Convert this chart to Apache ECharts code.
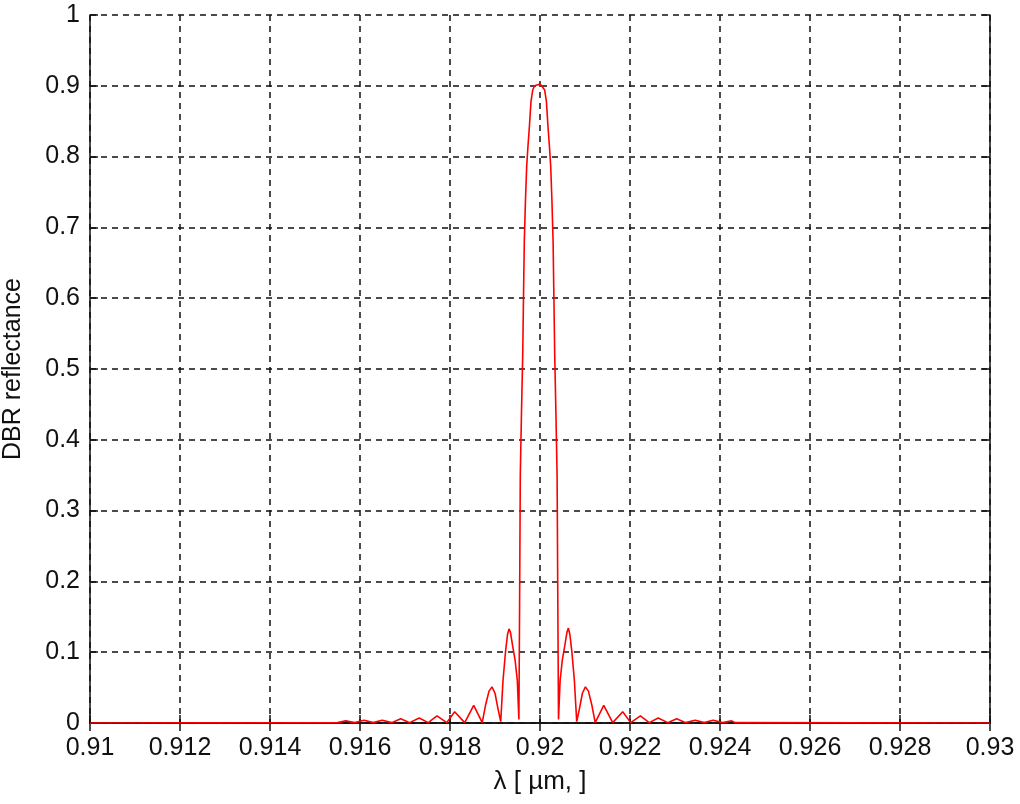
<!DOCTYPE html>
<html>
<head>
<meta charset="utf-8">
<script src="https://cdn.jsdelivr.net/npm/echarts@6/dist/echarts.min.js"></script>
<style>
html,body{margin:0;padding:0;background:#fff;}
#chart{width:1020px;height:804px;}
</style>
</head>
<body>
<div id="chart"></div>
<script>
// Wavelength samples (µm)
var wavelength = [
  0.91, 0.9155,
  0.915682, 0.915882, 0.916093, 0.916293, 0.916493, 0.916704, 0.916904, 0.917104,
  0.917316, 0.917516, 0.917711, 0.917927, 0.918104, 0.918327, 0.918527, 0.918716,
  0.918789, 0.918867, 0.918933, 0.919000, 0.919067, 0.919127,
  0.919178, 0.919233, 0.919278, 0.919311, 0.919344, 0.919389, 0.919444, 0.919496, 0.919531,
  0.919547, 0.919562, 0.919589, 0.919616, 0.919633, 0.919651, 0.919678, 0.919704, 0.919733,
  0.919762, 0.919800, 0.919838, 0.919878, 0.919922, 0.919971,
  0.920020, 0.920064, 0.920104, 0.920142, 0.920180, 0.920209, 0.920238, 0.920264, 0.920291,
  0.920309, 0.920327, 0.920353, 0.920380, 0.920396, 0.920411,
  0.920447, 0.920498, 0.920553, 0.920598, 0.920631, 0.920664, 0.920709, 0.920764, 0.920816,
  0.920876, 0.920942, 0.921009, 0.921076, 0.921153, 0.921227,
  0.921416, 0.921616, 0.921838, 0.922016, 0.922231, 0.922427, 0.922627, 0.922838,
  0.923038, 0.923238, 0.923449, 0.923649, 0.923849, 0.924060, 0.924260, 0.924333,
  0.93
];
// DBR reflectance at those wavelengths
var reflectance = [
  0, 0.0005,
  0.003, 0.0005, 0.004, 0.0005, 0.004, 0.0005, 0.006, 0.0005,
  0.007, 0.0005, 0.010, 0.0005, 0.016, 0.0005, 0.025, 0.0005,
  0.025, 0.045, 0.051, 0.042, 0.020, 0.002,
  0.06, 0.10, 0.125, 0.133, 0.128, 0.11, 0.09, 0.06, 0.005,
  0.17, 0.35, 0.44, 0.52, 0.60, 0.68, 0.74, 0.786, 0.815,
  0.84, 0.878, 0.894, 0.90, 0.901, 0.902,
  0.901, 0.90, 0.894, 0.878, 0.84, 0.815, 0.786, 0.74, 0.68,
  0.60, 0.52, 0.44, 0.35, 0.17, 0.005,
  0.06, 0.09, 0.11, 0.128, 0.134, 0.125, 0.10, 0.06, 0.002,
  0.02, 0.042, 0.051, 0.045, 0.025, 0.0005,
  0.025, 0.0005, 0.016, 0.0005, 0.010, 0.0005, 0.007, 0.0005,
  0.006, 0.0005, 0.004, 0.0005, 0.004, 0.0005, 0.003, 0.0005,
  0
];
var xTicks = {min: 0.91, max: 0.93, step: 0.002};
var yTicks = {min: 0, max: 1, step: 0.1};
var xTitle = 'λ [ µm, ]';
var yTitle = 'DBR reflectance';

var points = wavelength.map(function (w, i) { return [w, reflectance[i]]; });
var FONT = "'Liberation Sans', Arial, sans-serif";
function fmt(v) { return String(parseFloat(v.toFixed(4))); }

var axisLine = {show: true, lineStyle: {color: '#111', width: 1.5}};
var tick = {show: true, inside: true, length: 8, lineStyle: {color: '#111', width: 1.5}};
var split = {show: true, lineStyle: {color: '#111', width: 1.5, type: [6, 5]}};

var chart = echarts.init(document.getElementById('chart'));
chart.setOption({
  backgroundColor: '#fff',
  animation: false,
  grid: {left: 90, right: 30, top: 15, bottom: 81, containLabel: false, outerBoundsMode: 'none'},
  xAxis: [{
    type: 'value', position: 'bottom',
    min: xTicks.min, max: xTicks.max, interval: xTicks.step,
    axisLine: axisLine, axisTick: tick, splitLine: split,
    axisLabel: {fontSize: 25, color: '#111', fontFamily: FONT, margin: 13, formatter: fmt},
    name: xTitle, nameLocation: 'middle', nameGap: 46,
    nameTextStyle: {fontSize: 26, color: '#111', fontFamily: FONT}
  }, {
    type: 'value', position: 'top',
    min: xTicks.min, max: xTicks.max, interval: xTicks.step,
    axisLine: axisLine, axisTick: tick, splitLine: {show: false},
    axisLabel: {show: false}
  }],
  yAxis: [{
    type: 'value', position: 'left',
    min: yTicks.min, max: yTicks.max, interval: yTicks.step,
    axisLine: axisLine, axisTick: tick, splitLine: split,
    axisLabel: {fontSize: 25, color: '#111', fontFamily: FONT, margin: 10, formatter: fmt},
    name: yTitle, nameLocation: 'middle', nameGap: 64, nameRotate: 90,
    nameTextStyle: {fontSize: 25, color: '#111', fontFamily: FONT}
  }, {
    type: 'value', position: 'right',
    min: yTicks.min, max: yTicks.max, interval: yTicks.step,
    axisLine: axisLine, axisTick: tick, splitLine: {show: false},
    axisLabel: {show: false}
  }],
  series: [{
    type: 'line',
    data: points,
    showSymbol: false,
    lineStyle: {color: '#ff0000', width: 1.6},
    z: 5
  }]
});
</script>
</body>
</html>
